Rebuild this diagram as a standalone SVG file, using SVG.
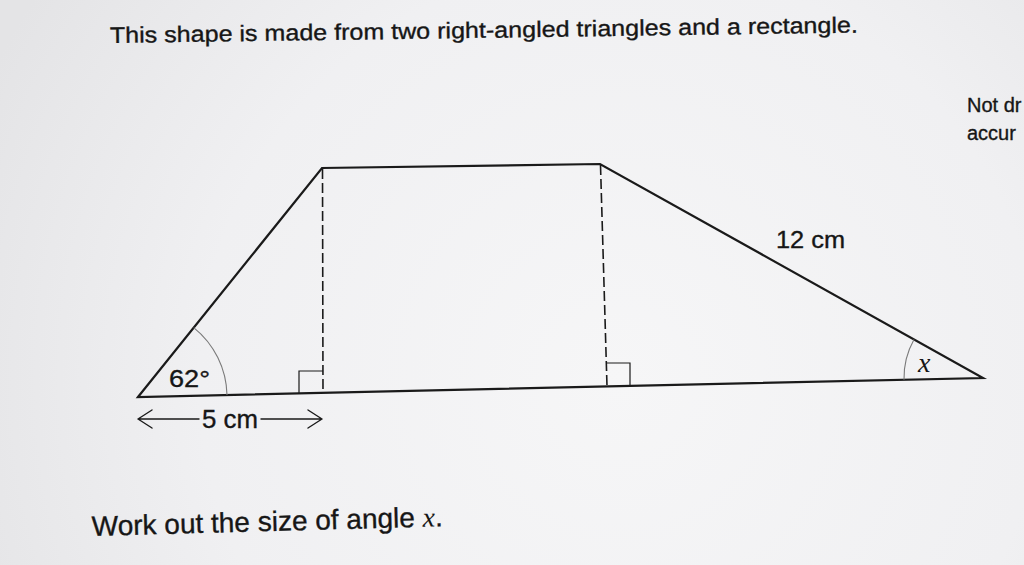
<svg xmlns="http://www.w3.org/2000/svg" width="1024" height="565" viewBox="0 0 1024 565">
  <defs>
    <radialGradient id="bg" cx="620" cy="380" r="700" gradientUnits="userSpaceOnUse">
      <stop offset="0" stop-color="#f6f6f7"/>
      <stop offset="0.6" stop-color="#f0f0f2"/>
      <stop offset="1" stop-color="#e4e4e6"/>
    </radialGradient>
    <style>
      .txt { font-family: "Liberation Sans", Arial, sans-serif; fill: #161616; stroke: #161616; stroke-width: 0.35; }
      .var { font-family: "Liberation Serif", "Times New Roman", serif; font-style: italic; fill: #161616; stroke: none; }
      .edge { fill: none; stroke: #1a1a1a; stroke-width: 2.2; stroke-linejoin: miter; }
      .dash { fill: none; stroke: #1a1a1a; stroke-width: 1.6; stroke-dasharray: 10 4; }
      .thin { fill: none; stroke: #1a1a1a; stroke-width: 1.2; }
      .arc { fill: none; stroke: #7a7a7a; stroke-width: 1.1; }
      .arrow { fill: none; stroke: #1a1a1a; stroke-width: 1.4; stroke-linecap: round; stroke-linejoin: round; }
    </style>
  </defs>
  <rect width="1024" height="565" fill="url(#bg)"/>

  <g id="title">
    <text class="txt" x="110" y="43" font-size="22.5" textLength="748" lengthAdjust="spacingAndGlyphs" transform="rotate(-0.8 110 43)">This shape is made from two right-angled triangles and a rectangle.</text>
  </g>

  <g id="note">
    <text class="txt" x="967" y="112" font-size="20">Not dr</text>
    <text class="txt" x="967" y="140" font-size="20">accur</text>
  </g>

  <g id="shape">
    <path class="edge" d="M138,397 L322,168 L600,164 L983,378 Z"/>
  </g>

  <g id="connectors">
    <line class="dash" x1="322.5" y1="169" x2="323" y2="393"/>
    <line class="dash" x1="600.5" y1="165" x2="607" y2="386"/>
    <polyline class="thin" points="299,393.5 299,371 323,371"/>
    <polyline class="thin" points="607,363 630,363 630,385.8"/>
    <path class="arc" d="M227,395 A89,89 0 0 0 193.7,327.6"/>
    <path class="arc" d="M914,339.4 A79,79 0 0 0 904,379.8"/>
    <path class="arrow" d="M138,419 H199 M152,410 L138,419 L152,428"/>
    <path class="arrow" d="M261,419 H322 M308,410 L322,419 L308,428"/>
  </g>

  <g id="label-62">
    <text class="txt" x="169" y="387" font-size="24" textLength="41" lengthAdjust="spacingAndGlyphs">62°</text>
  </g>
  <g id="label-5cm">
    <text class="txt" x="202" y="428" font-size="25" textLength="56" lengthAdjust="spacingAndGlyphs">5 cm</text>
  </g>
  <g id="label-12cm">
    <text class="txt" x="776" y="248" font-size="23" textLength="69" lengthAdjust="spacingAndGlyphs">12 cm</text>
  </g>
  <g id="label-x">
    <text class="var" x="918" y="372" font-size="28">x</text>
  </g>

  <g id="question">
    <text class="txt" x="92" y="536" font-size="28" transform="rotate(-1.6 92 536)">Work out the size of angle <tspan class="var">x</tspan>.</text>
  </g>
</svg>
